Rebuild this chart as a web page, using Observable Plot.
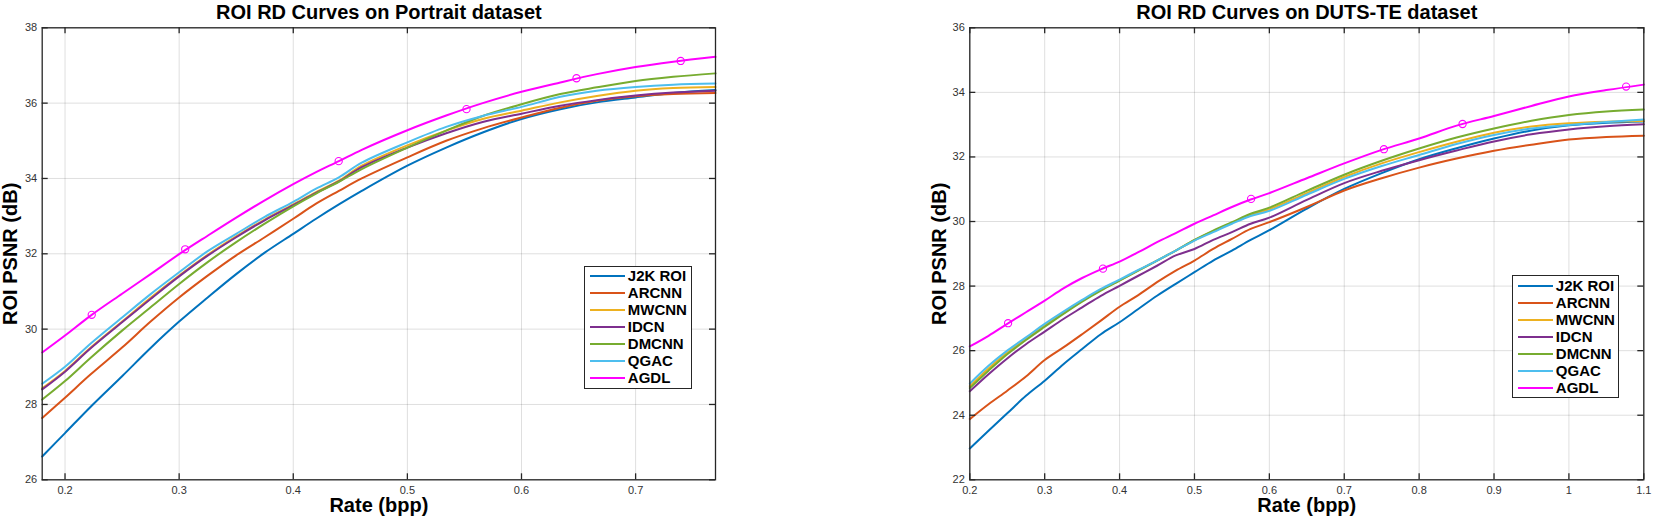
<!DOCTYPE html>
<html>
<head>
<meta charset="utf-8">
<script src="https://cdn.jsdelivr.net/npm/d3@7"></script>
<script src="https://cdn.jsdelivr.net/npm/@observablehq/plot@0.6"></script>
<style>
  body { margin: 0; background: #fff; }
  #wrap { position: relative; width: 1653px; height: 517px; overflow: hidden; background: #fff;
          font-family: "Liberation Sans", Arial, Helvetica, sans-serif; }
  .panel { position: absolute; top: 0; }
  .legend { position: absolute; background: #fff; border: 1.3px solid #262626; box-sizing: border-box; }
  .legend .row { position: absolute; height: 17px; display: flex; align-items: center; }
  .legend .sw { height: 2px; }
  .legend .lab { position: absolute; font-weight: bold; font-size: 15px; color: #000; line-height: 17px; white-space: nowrap; }
</style>
</head>
<body>
<div id="wrap"></div>
<script>
// ---------- series names & colours ----------
const names  = ["J2K ROI", "ARCNN", "MWCNN", "IDCN", "DMCNN", "QGAC", "AGDL"];
const colors = ["#0072BD", "#D95319", "#EDB120", "#7E2F8E", "#77AC30", "#4DBEEE", "#FF00FF"];

// ---------- Portrait dataset (left) ----------
const ratesP = [0.18, 0.2, 0.2225, 0.25, 0.275, 0.3, 0.325, 0.35, 0.375, 0.4, 0.42, 0.44, 0.46, 0.5, 0.534, 0.566, 0.6, 0.634, 0.666, 0.7, 0.733, 0.77];
const j2kP   = [26.62, 27.24, 27.94, 28.75, 29.50, 30.20, 30.84, 31.46, 32.03, 32.53, 32.93, 33.31, 33.67, 34.34, 34.82, 35.22, 35.58, 35.84, 36.02, 36.15, 36.27, 36.35];
const arcnnP = [27.64, 28.18, 28.80, 29.51, 30.20, 30.84, 31.42, 31.96, 32.44, 32.93, 33.33, 33.67, 34.00, 34.56, 35.00, 35.33, 35.62, 35.88, 36.06, 36.18, 36.24, 36.27];
const mwcnnP = [28.43, 28.89, 29.51, 30.20, 30.83, 31.42, 31.97, 32.46, 32.91, 33.31, 33.64, 33.94, 34.34, 34.88, 35.27, 35.58, 35.80, 36.02, 36.19, 36.33, 36.40, 36.43];
const idcnP  = [28.40, 28.87, 29.49, 30.18, 30.80, 31.40, 31.95, 32.44, 32.89, 33.29, 33.62, 33.92, 34.30, 34.82, 35.20, 35.50, 35.72, 35.93, 36.08, 36.20, 36.28, 36.33];
const dmcnnP = [28.13, 28.62, 29.24, 29.96, 30.58, 31.20, 31.78, 32.31, 32.80, 33.26, 33.60, 33.91, 34.25, 34.82, 35.27, 35.66, 35.97, 36.24, 36.42, 36.59, 36.70, 36.79];
const qgacP  = [28.55, 29.00, 29.62, 30.31, 30.93, 31.51, 32.07, 32.53, 32.98, 33.38, 33.73, 34.03, 34.42, 34.96, 35.37, 35.66, 35.90, 36.17, 36.33, 36.43, 36.49, 36.52];
const agdlP  = [29.38, 29.83, 30.36, 30.94, 31.46, 31.99, 32.48, 32.96, 33.42, 33.85, 34.17, 34.46, 34.76, 35.28, 35.67, 36.00, 36.30, 36.55, 36.77, 36.96, 37.10, 37.23];
const agdlMarkRatesP = [0.2234, 0.3053, 0.4398, 0.5518, 0.6482, 0.7395];
const agdlMarkPsnrP  = [30.38, 32.12, 34.46, 35.84, 36.66, 37.12];
const xTicksP = [0.2, 0.3, 0.4, 0.5, 0.6, 0.7];
const yTicksP = [26, 28, 30, 32, 34, 36, 38];

// ---------- DUTS-TE dataset (right) ----------
const ratesD = [0.2, 0.225, 0.25, 0.275, 0.3, 0.325, 0.35, 0.375, 0.4, 0.425, 0.45, 0.475, 0.5, 0.525, 0.55, 0.575, 0.6, 0.65, 0.7, 0.75, 0.8, 0.85, 0.9, 0.95, 1.0, 1.05, 1.1];
const j2kD   = [22.97, 23.52, 24.06, 24.60, 25.07, 25.58, 26.05, 26.51, 26.88, 27.29, 27.70, 28.07, 28.43, 28.79, 29.10, 29.43, 29.73, 30.40, 31.01, 31.50, 31.93, 32.27, 32.57, 32.82, 32.98, 33.06, 33.10];
const arcnnD = [23.88, 24.34, 24.76, 25.20, 25.71, 26.10, 26.51, 26.93, 27.36, 27.72, 28.12, 28.48, 28.79, 29.15, 29.46, 29.77, 29.98, 30.45, 30.96, 31.34, 31.67, 31.95, 32.19, 32.38, 32.54, 32.62, 32.66];
const mwcnnD = [24.90, 25.45, 25.94, 26.37, 26.78, 27.17, 27.54, 27.88, 28.18, 28.49, 28.79, 29.10, 29.42, 29.70, 29.96, 30.20, 30.38, 30.88, 31.38, 31.80, 32.15, 32.47, 32.75, 32.94, 33.04, 33.09, 33.11];
const idcnD  = [24.74, 25.27, 25.76, 26.20, 26.59, 26.98, 27.34, 27.70, 28.01, 28.32, 28.63, 28.95, 29.15, 29.43, 29.67, 29.93, 30.12, 30.67, 31.19, 31.57, 31.90, 32.20, 32.48, 32.70, 32.85, 32.95, 33.01];
const dmcnnD = [24.84, 25.38, 25.89, 26.33, 26.74, 27.14, 27.52, 27.86, 28.17, 28.48, 28.79, 29.10, 29.43, 29.72, 29.98, 30.24, 30.43, 30.95, 31.45, 31.88, 32.26, 32.60, 32.88, 33.12, 33.30, 33.41, 33.47];
const qgacD  = [24.98, 25.53, 26.00, 26.41, 26.83, 27.21, 27.57, 27.91, 28.20, 28.50, 28.79, 29.10, 29.41, 29.67, 29.93, 30.17, 30.33, 30.83, 31.32, 31.72, 32.06, 32.40, 32.68, 32.88, 32.99, 33.08, 33.16];
const agdlD  = [26.13, 26.46, 26.83, 27.19, 27.55, 27.93, 28.25, 28.52, 28.76, 29.05, 29.36, 29.64, 29.93, 30.19, 30.45, 30.68, 30.88, 31.34, 31.80, 32.22, 32.57, 32.97, 33.27, 33.58, 33.87, 34.07, 34.24];
const agdlMarkRatesD = [0.2511, 0.3778, 0.5756, 0.753, 0.858, 1.0764];
const agdlMarkPsnrD  = [26.85, 28.54, 30.70, 32.24, 33.02, 34.18];
const xTicksD = [0.2, 0.3, 0.4, 0.5, 0.6, 0.7, 0.8, 0.9, 1, 1.1];
const yTicksD = [22, 24, 26, 28, 30, 32, 34, 36];

const titles = ["ROI RD Curves on Portrait dataset", "ROI RD Curves on DUTS-TE dataset"];
const xLabel = "Rate (bpp)";
const yLabel = "ROI PSNR (dB)";

// ---------- builder ----------
const FONT = '"Liberation Sans", Arial, Helvetica, sans-serif';
const H = 517, MT = 27.3, MB = H - 479.3;

function panel({rates, series, markR, markV, xDomain, yDomain, xTicks, yTicks, width, mL, mR, title, yLabDx}) {
  const data = names.flatMap((n, i) => rates.map((r, j) => ({name: n, rate: r, psnr: series[i][j]})));
  const marks = markR.map((r, i) => ({rate: r, psnr: markV[i]}));
  const fw = width - mL - mR, fh = H - MT - MB;
  const ink = "#262626";
  const svg = Plot.plot({
    width, height: H,
    marginLeft: mL, marginRight: mR, marginTop: MT, marginBottom: MB,
    style: {fontFamily: FONT, fontSize: "11px", color: "#333", background: "transparent", overflow: "visible"},
    x: {domain: xDomain},
    y: {domain: yDomain},
    color: {domain: names, range: colors},
    marks: [
      Plot.gridX(xTicks, {stroke: "#000", strokeOpacity: 0.13, strokeWidth: 1}),
      Plot.gridY(yTicks, {stroke: "#000", strokeOpacity: 0.13, strokeWidth: 1}),
      Plot.line(data, {x: "rate", y: "psnr", z: "name", stroke: "name", strokeWidth: 2, curve: "catmull-rom"}),
      Plot.dot(marks, {x: "rate", y: "psnr", r: 3.6, stroke: "#FF00FF", strokeWidth: 1.1, fill: "none"}),
      Plot.frame({stroke: ink, strokeWidth: 1.3}),
      Plot.tickX(xTicks, {x: d => d, insetTop: fh - 6, stroke: ink, strokeWidth: 1.3}),
      Plot.tickX(xTicks, {x: d => d, insetBottom: fh - 6, stroke: ink, strokeWidth: 1.3}),
      Plot.tickY(yTicks, {y: d => d, insetRight: fw - 6, stroke: ink, strokeWidth: 1.3}),
      Plot.tickY(yTicks, {y: d => d, insetLeft: fw - 6, stroke: ink, strokeWidth: 1.3}),
      Plot.axisX(xTicks, {anchor: "bottom", tickSize: 0, tickPadding: 6, label: null, tickFormat: d => String(d), fill: "#333"}),
      Plot.axisY(yTicks, {anchor: "left", tickSize: 0, tickPadding: 5, label: null, tickFormat: d => String(d), fill: "#333"}),
      Plot.text([title], {text: d => d, frameAnchor: "top", textAnchor: "middle", lineAnchor: "middle", dy: -15.4, fontSize: 20, fontWeight: "bold", fill: "#000", ariaLabel: "chart-title"}),
      Plot.text([xLabel], {text: d => d, frameAnchor: "bottom", textAnchor: "middle", lineAnchor: "middle", dy: 26, fontSize: 20, fontWeight: "bold", fill: "#000"}),
      Plot.text([yLabel], {text: d => d, frameAnchor: "left", textAnchor: "middle", lineAnchor: "middle", dx: yLabDx, rotate: -90, fontSize: 20, fontWeight: "bold", fill: "#000"})
    ]
  });
  d3.select(svg).selectAll('g[aria-label="chart-title"] text').style("letter-spacing", "1px");
  return svg;
}

function legend(left, top, width, height, rowTop, lineX, lineW, textX) {
  const box = document.createElement("div");
  box.className = "legend";
  Object.assign(box.style, {left: left + "px", top: top + "px", width: width + "px", height: height + "px"});
  names.forEach((n, i) => {
    const row = document.createElement("div");
    row.className = "row";
    Object.assign(row.style, {left: lineX + "px", top: (rowTop + 17 * i - 8.5) + "px", width: lineW + "px"});
    const sw = document.createElement("div");
    sw.className = "sw";
    Object.assign(sw.style, {width: lineW + "px", background: colors[i]});
    row.appendChild(sw);
    box.appendChild(row);
    const lab = document.createElement("div");
    lab.className = "lab";
    lab.textContent = n;
    Object.assign(lab.style, {left: textX + "px", top: (rowTop + 17 * i - 8.5) + "px"});
    box.appendChild(lab);
  });
  return box;
}

const wrap = document.getElementById("wrap");

const left = panel({
  rates: ratesP, series: [j2kP, arcnnP, mwcnnP, idcnP, dmcnnP, qgacP, agdlP],
  markR: agdlMarkRatesP, markV: agdlMarkPsnrP,
  xDomain: [0.18, 0.77], yDomain: [26, 38], xTicks: xTicksP, yTicks: yTicksP,
  width: 826, mL: 41.7, mR: 826 - 715, title: titles[0], yLabDx: -32.1
});
left.classList.add("panel");
left.style.left = "0px";
wrap.appendChild(left);

const right = panel({
  rates: ratesD, series: [j2kD, arcnnD, mwcnnD, idcnD, dmcnnD, qgacD, agdlD],
  markR: agdlMarkRatesD, markV: agdlMarkPsnrD,
  xDomain: [0.2, 1.1], yDomain: [22, 36], xTicks: xTicksD, yTicks: yTicksD,
  width: 827, mL: 969.3 - 826, mR: 1653 - 1643.3, title: titles[1], yLabDx: -30.7
});
right.classList.add("panel");
right.style.left = "826px";
wrap.appendChild(right);

wrap.appendChild(legend(584.3, 266, 107.4, 123.3, 8.5, 4.7, 35, 42.5));
wrap.appendChild(legend(1512.3, 275, 107, 123.3, 9.7, 5, 34.4, 42.5));
</script>
</body>
</html>
